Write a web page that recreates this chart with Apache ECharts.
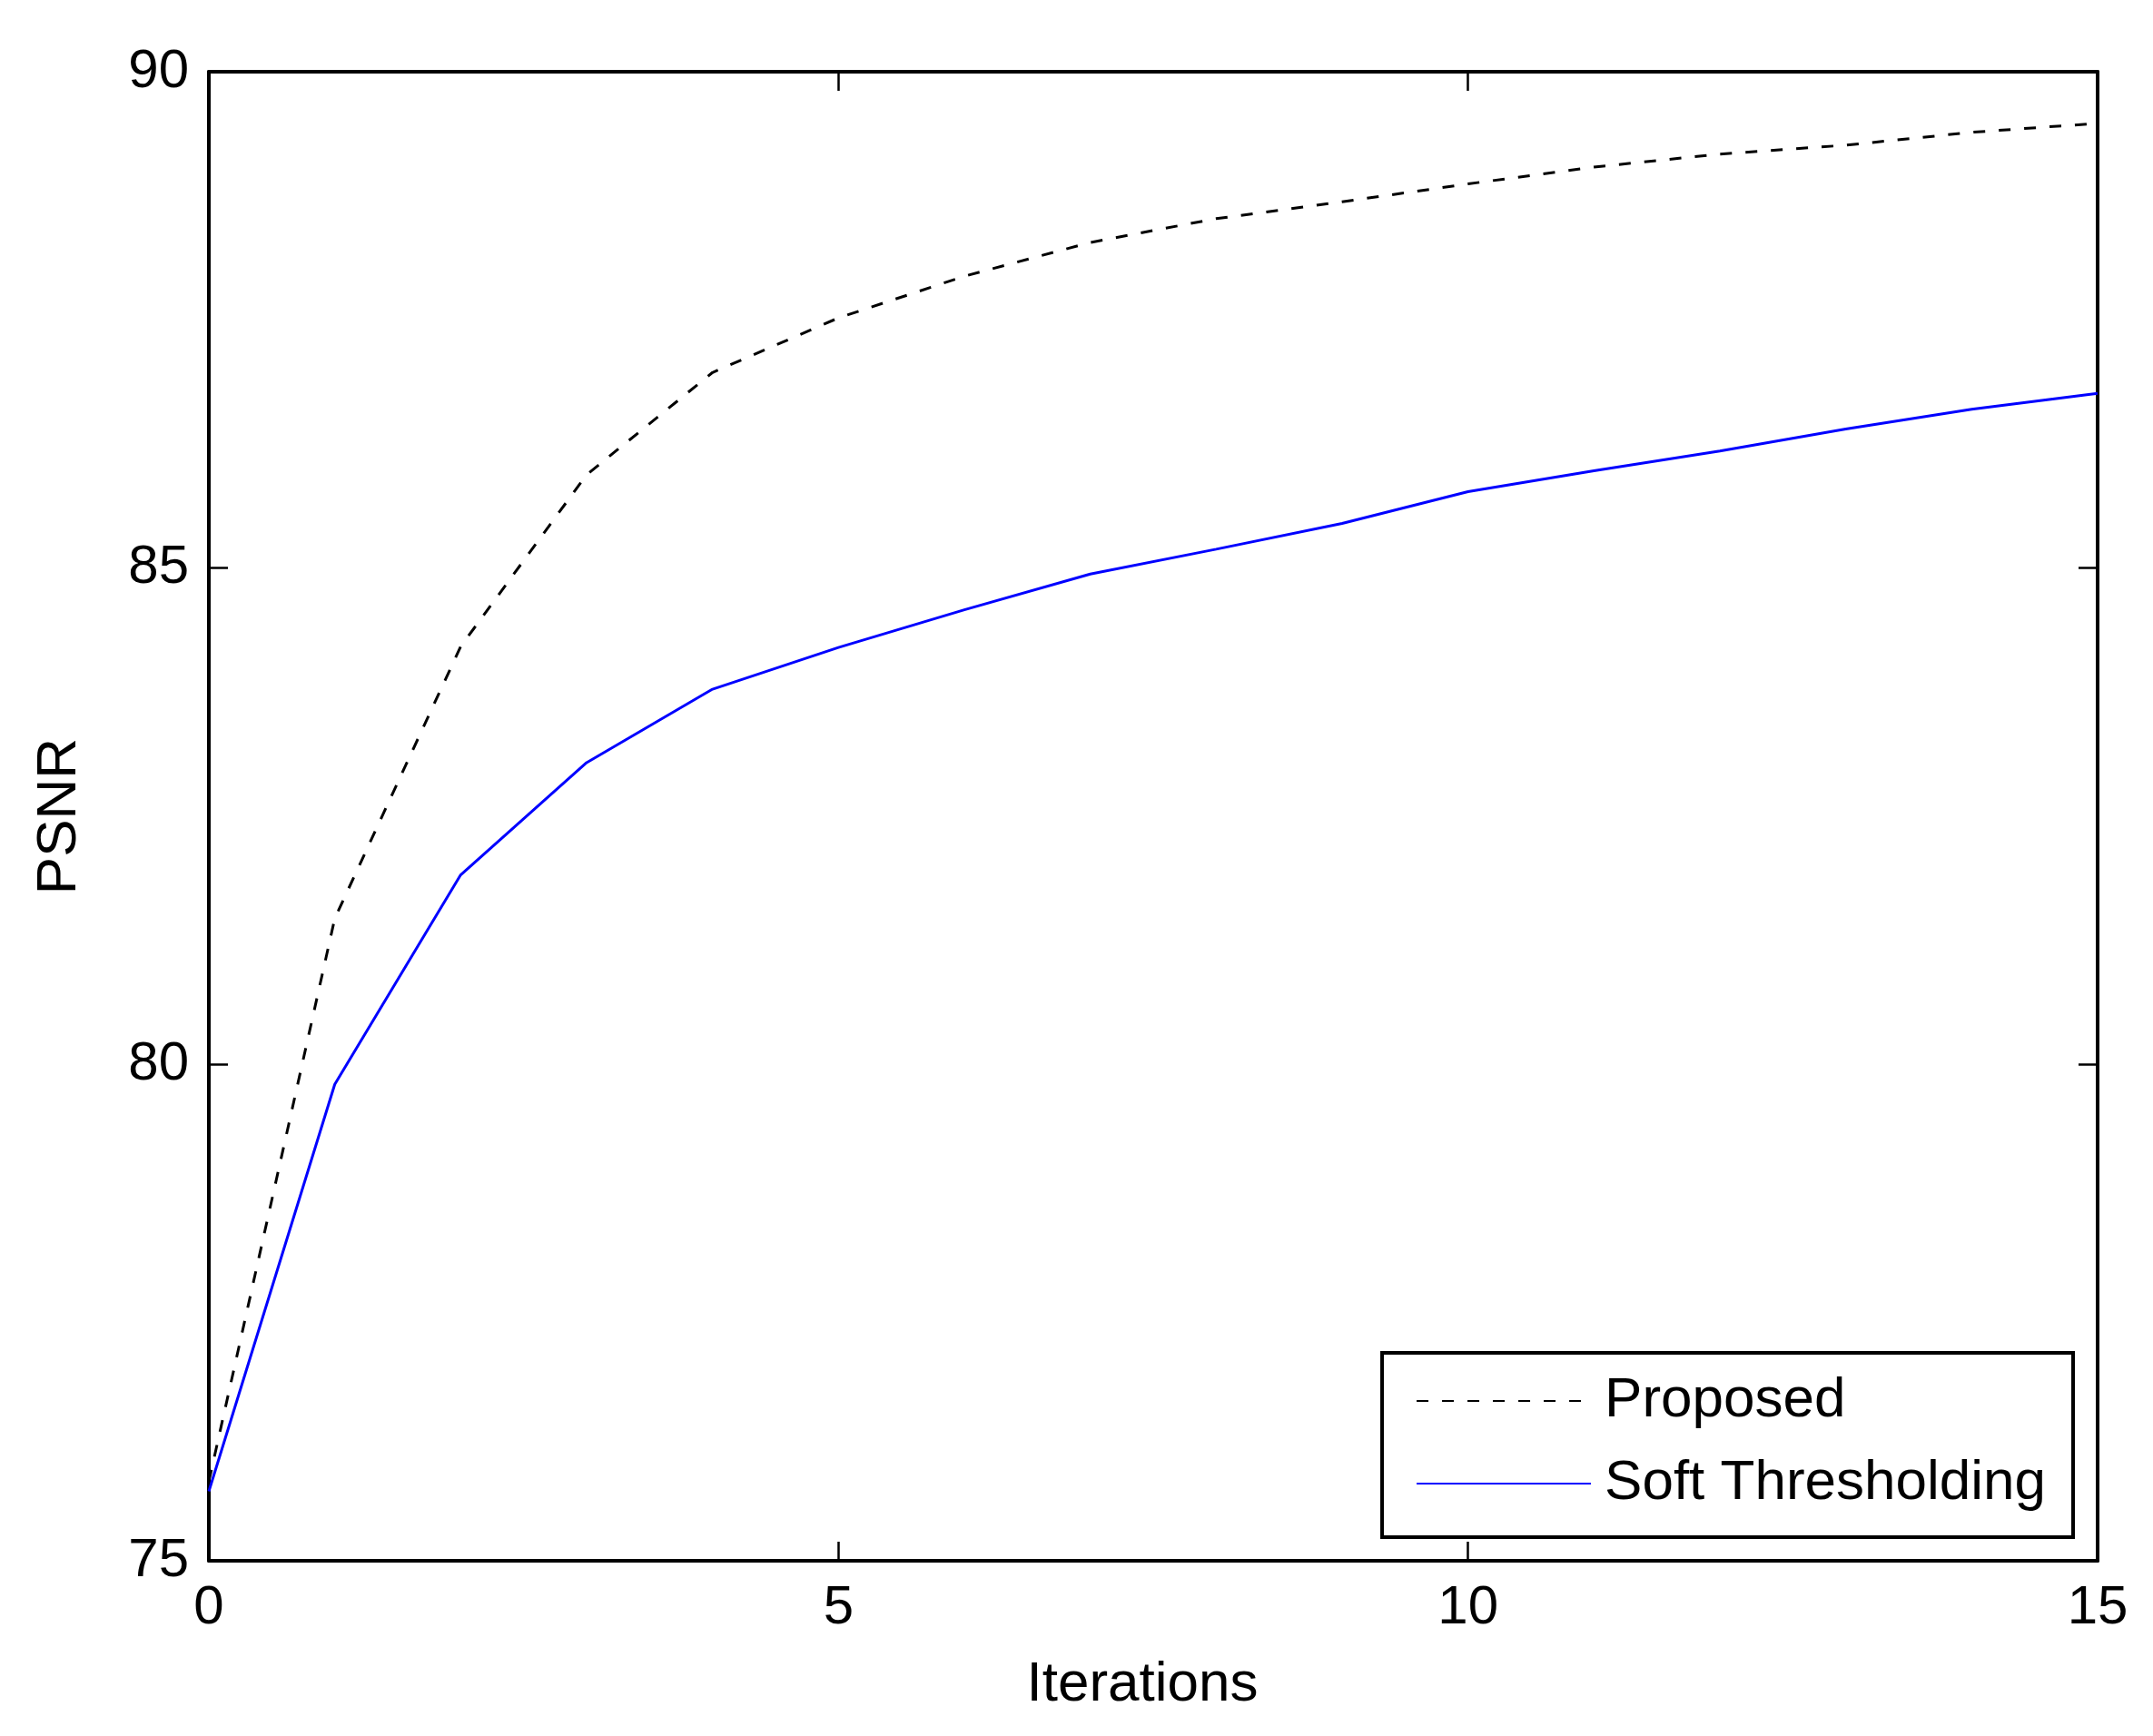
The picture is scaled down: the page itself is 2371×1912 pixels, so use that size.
<!DOCTYPE html>
<html>
<head>
<meta charset="utf-8">
<script src="https://cdn.jsdelivr.net/npm/echarts@6/dist/echarts.min.js"></script>
<style>
html,body{margin:0;padding:0;background:#fff;}
#chart{width:2371px;height:1912px;}
</style>
</head>
<body>
<div id="chart"></div>
<script>
const iterations = [0,1,2,3,4,5,6,7,8,9,10,11,12,13,14,15];
const proposed = [75.8,81.47,84.21,85.94,86.97,87.52,87.94,88.28,88.52,88.69,88.87,89.04,89.17,89.26,89.39,89.48];
const softThresholding = [75.7,79.8,81.91,83.04,83.78,84.2,84.58,84.94,85.19,85.45,85.77,85.98,86.18,86.4,86.6,86.76];
const xTicks = [0,5,10,15];
const yTicks = [75,80,85,90];

const FONT = 'Liberation Sans, Arial, sans-serif';
const chart = echarts.init(document.getElementById('chart'));
const axisCommon = {
  axisLine:{show:true,onZero:false,lineStyle:{color:'#000',width:4}},
  axisTick:{show:true,inside:true,length:21,lineStyle:{color:'#000',width:2.5}},
  splitLine:{show:false}
};
chart.setOption({
  backgroundColor:'#fff',
  animation:false,
  grid:{left:230,right:61,top:79,bottom:193,containLabel:false},
  xAxis:[
    Object.assign({
      type:'value',min:xTicks[0],max:xTicks[xTicks.length-1],interval:5,
      position:'bottom',
      name:'Iterations',nameLocation:'middle',nameGap:106,
      nameTextStyle:{fontFamily:FONT,fontSize:62,color:'#000',padding:[0,24,0,0]},
      axisLabel:{show:true,margin:22,fontFamily:FONT,fontSize:60,color:'#000'}
    },axisCommon),
    Object.assign({
      type:'value',min:xTicks[0],max:xTicks[xTicks.length-1],interval:5,
      position:'top',axisLabel:{show:false}
    },axisCommon)
  ],
  yAxis:[
    Object.assign({
      type:'value',min:yTicks[0],max:yTicks[yTicks.length-1],interval:5,
      position:'left',
      name:'PSNR',nameLocation:'middle',nameGap:133,
      nameTextStyle:{fontFamily:FONT,fontSize:62,color:'#000'},
      axisLabel:{show:true,margin:22,fontFamily:FONT,fontSize:60,color:'#000'}
    },axisCommon),
    Object.assign({
      type:'value',min:yTicks[0],max:yTicks[yTicks.length-1],interval:5,
      position:'right',axisLabel:{show:false}
    },axisCommon)
  ],
  legend:{
    orient:'vertical',
    right:88,bottom:219,
    backgroundColor:'#fff',
    borderColor:'#000',borderWidth:4,borderRadius:0,
    padding:[22,30,28,37],
    itemWidth:192,itemHeight:28,itemGap:29,
    itemStyle:{opacity:0},
    textStyle:{fontFamily:FONT,fontSize:62,color:'#000',lineHeight:62,padding:[0,0,0,10]},
    data:['Proposed','Soft Thresholding']
  },
  series:[
    {
      name:'Proposed',type:'line',
      data:iterations.map((x,i)=>[x,proposed[i]]),
      showSymbol:false,symbol:'none',
      lineStyle:{color:'#000',width:3,type:[13,15]},
      itemStyle:{color:'#000'}
    },
    {
      name:'Soft Thresholding',type:'line',
      data:iterations.map((x,i)=>[x,softThresholding[i]]),
      showSymbol:false,symbol:'none',
      lineStyle:{color:'#0000ff',width:3,type:'solid'},
      itemStyle:{color:'#0000ff'}
    }
  ]
});
</script>
</body>
</html>
